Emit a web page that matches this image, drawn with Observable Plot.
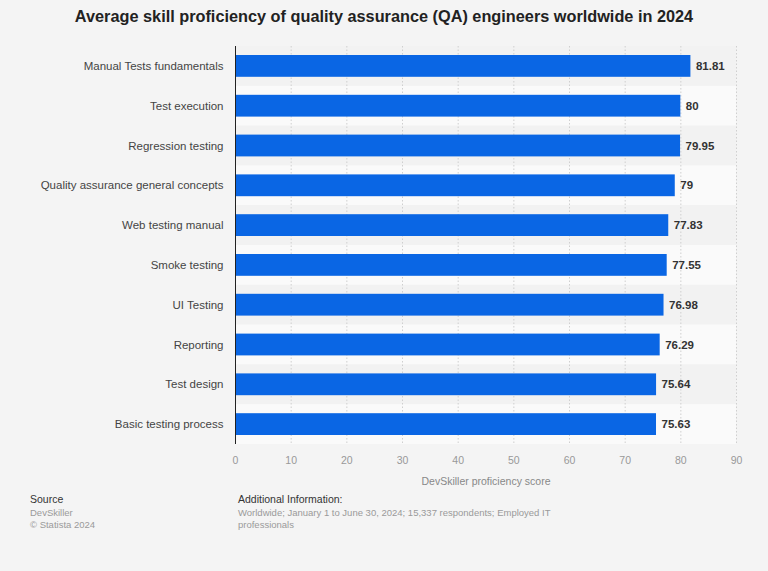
<!DOCTYPE html>
<html>
<head>
<meta charset="utf-8">
<script src="https://cdn.jsdelivr.net/npm/d3@7"></script>
<script src="https://cdn.jsdelivr.net/npm/@observablehq/plot@0.6"></script>
<style>
  html, body { margin: 0; padding: 0; background: #f4f4f4; width: 768px; height: 571px; overflow: hidden; font-family: "Liberation Sans", Arial, sans-serif; }
  #title { position: absolute; left: 0; width: 768px; top: 7px; text-align: center; font-weight: bold; font-size: 16.3px; color: #222; }
  #chart { position: absolute; left: 0; top: 0; }
  .foot { position: absolute; font-size: 9.5px; line-height: 12.5px; color: #9a9a9a; }
  .foot b { font-weight: normal; color: #333; font-size: 10.5px; }
</style>
</head>
<body>
<div id="chart"></div>
<div id="title">Average skill proficiency of quality assurance (QA) engineers worldwide in 2024</div>
<div class="foot" style="left:30px; top:493px;"><b>Source</b><br>DevSkiller<br>© Statista 2024</div>
<div class="foot" style="left:238px; top:493px; width:330px;"><b>Additional Information:</b><br>Worldwide; January 1 to June 30, 2024; 15,337 respondents; Employed IT professionals</div>
<script>
const categories = [
  "Manual Tests fundamentals",
  "Test execution",
  "Regression testing",
  "Quality assurance general concepts",
  "Web testing manual",
  "Smoke testing",
  "UI Testing",
  "Reporting",
  "Test design",
  "Basic testing process"
];
const values = [81.81, 80, 79.95, 79, 77.83, 77.55, 76.98, 76.29, 75.64, 75.63];
const xTicks = [0, 10, 20, 30, 40, 50, 60, 70, 80, 90];
const xLabel = "DevSkiller proficiency score";

const data = categories.map((c, i) => ({category: c, value: values[i], idx: i}));

const chart = Plot.plot({
  width: 768,
  height: 500,
  marginLeft: 235,
  marginRight: 32,
  marginTop: 46,
  marginBottom: 56,
  style: {background: "transparent", fontFamily: "'Liberation Sans', Arial, sans-serif"},
  x: {domain: [0, 90], ticks: xTicks, label: null},
  y: {domain: categories, padding: 0, round: false, label: null},
  marks: [
    Plot.barX(data, {y: "category", x1: 0, x2: 90, fill: d => d.idx % 2 ? "#fafafa" : "#f2f2f2", insetTop: 0, insetBottom: 0}),
    Plot.gridX(xTicks, {stroke: "#cfcfcf", strokeOpacity: 1, strokeDasharray: "1.5,2"}),
    Plot.barX(data, {y: "category", x: "value", fill: "#0a66e4", insetTop: 9, insetBottom: 9}),
    Plot.text(data, {y: "category", x: "value", text: d => String(d.value), textAnchor: "start", dx: 5, fontWeight: "bold", fontSize: 11.5, fill: "#333"}),
    Plot.ruleX([0], {stroke: "#222", strokeWidth: 1}),
    Plot.axisY({tickSize: 0, tickPadding: 12, fontSize: 11.5, fill: "#444", label: null}),
    Plot.axisX(xTicks, {tickSize: 0, tickPadding: 12, fontSize: 10.5, fill: "#999", label: null}),
    Plot.text([xLabel], {frameAnchor: "bottom", dy: 40, fontSize: 10.5, fill: "#888"})
  ]
});
document.getElementById("chart").appendChild(chart);
</script>
</body>
</html>
